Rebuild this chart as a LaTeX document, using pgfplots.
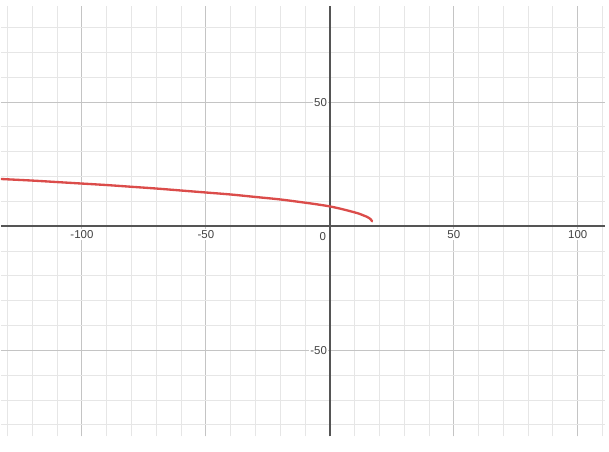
\documentclass[border=0pt]{standalone}
\usepackage{fontspec}
\setmainfont{Liberation Sans}
\usepackage{pgfplots}
\pgfplotsset{compat=1.18}
\definecolor{curvered}{HTML}{DB4C4A}
\definecolor{minorgrid}{HTML}{E6E6E6}
\definecolor{majorgrid}{HTML}{C4C4C4}
\definecolor{axisgray}{HTML}{555555}
\definecolor{labelgray}{HTML}{444444}

\begin{document}
\begin{tikzpicture}
\begin{axis}[
  scale only axis,
  width=453.75pt, height=323.25pt,
  xmin=-132.7, xmax=111, ymin=-84.6, ymax=88.7,
  axis lines=middle,
  axis line style={-, draw=axisgray, line width=1.3pt},
  xtick={-100,-50,50,100}, xticklabels={-100,-50,50,100},
  ytick={-50,50}, yticklabels={-50,50},
  minor xtick={-130,-120,...,110},
  minor ytick={-80,-70,...,80},
  major tick length=0pt, minor tick length=0pt,
  grid=both,
  major grid style={draw=majorgrid, line width=0.75pt},
  minor grid style={draw=minorgrid, line width=0.75pt},
  tick label style={font=\fontsize{8.6}{10}\selectfont, text=labelgray, fill=white, inner sep=0.8pt},
  xticklabel style={yshift=-2.2pt},
  yticklabel style={xshift=-1.2pt},
]
\addplot[curvered, line width=1.75pt, line cap=round, smooth] coordinates {
  (-134,19.1)(-120,18.4)(-110,17.8)(-100,17.2)(-90,16.6)(-80,15.9)
  (-70,15.2)(-60,14.4)(-50,13.6)(-40,12.8)(-30,11.8)(-20,10.8)
  (-10,9.5)(-5,8.8)(0,8.0)(5,6.9)(10,5.6)(12,5.0)(14,4.2)
  (15,3.8)(16,3.2)(16.6,2.7)(17,2.0)
};
\node[font=\fontsize{8.6}{10}\selectfont, text=labelgray, fill=white, inner sep=0.8pt]
  at ([shift={(-5.2pt,-7.4pt)}]axis cs:0,0) {0};
\end{axis}
\path ([yshift=-11.25pt]current axis.south west)
      ([shift={(3pt,4.5pt)}]current axis.north east);
\end{tikzpicture}
\end{document}
